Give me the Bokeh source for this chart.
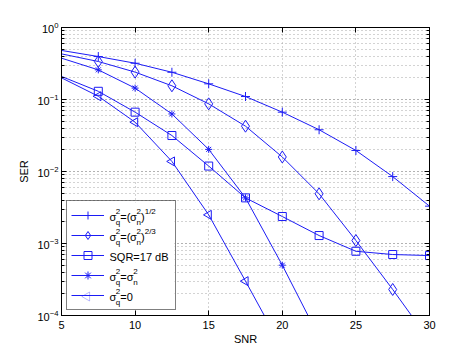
import math
from bokeh.plotting import figure
from bokeh.models import (LinearAxis, LogAxis, FixedTicker, LogTicker, Legend, LegendItem,
                          Label, Range1d, CustomJSTickFormatter, BoxAnnotation, PolyAnnotation)
from bokeh.embed import file_html
from bokeh.resources import INLINE

# ---------------- data ----------------
snr = [5, 7.5, 10, 12.5, 15, 17.5, 20, 22.5, 25, 27.5, 30]
ser_half = [0.48, 0.395, 0.319, 0.239, 0.165, 0.110, 0.0667, 0.038, 0.0196, 0.0085, 0.0033]
ser_two_thirds = [0.43, 0.337, 0.24, 0.155, 0.087, 0.0426, 0.0159, 0.0049, 0.0011, 0.00023, 4.5e-5]
ser_sqr17 = [0.209, 0.130, 0.0667, 0.0316, 0.0119, 0.0043, 0.00237, 0.00129, 0.00078, 0.000703, 0.00068]
ser_equal = [0.375, 0.258, 0.144, 0.063, 0.0203, 0.0043, 0.0005, 5e-5]
ser_zero = [0.2, 0.111, 0.0484, 0.0138, 0.0025, 0.0003, 3.5e-5]

x_ticks = [5, 10, 15, 20, 25, 30]
x_label = "SNR"
y_label = "SER"

series = [
    (ser_half, "cross", 9, 0),
    (ser_two_thirds, "diamond", 12, 0),
    (ser_sqr17, "square", 8, 0),
    (ser_equal, "asterisk", 7, 0),
    (ser_zero, "triangle", 9, math.pi / 2),
]

# legend text pieces: (text, dx, role)
legend_texts = [
    [("σ", 0, "m"), ("2", 6.3, "sup"), ("q", 6.3, "sub"), ("=(", 10.8, "m"), ("σ", 20.6, "m"),
     ("2", 27.0, "sup"), ("n", 27.0, "sub"), (")", 31.4, "m"), ("1/2", 35.2, "sup")],
    [("σ", 0, "m"), ("2", 6.3, "sup"), ("q", 6.3, "sub"), ("=(", 10.8, "m"), ("σ", 20.6, "m"),
     ("2", 27.0, "sup"), ("n", 27.0, "sub"), (")", 31.4, "m"), ("2/3", 35.2, "sup")],
    [("SQR=17 dB", 0, "m")],
    [("σ", 0, "m"), ("2", 6.3, "sup"), ("q", 6.3, "sub"), ("=σ", 10.8, "m"),
     ("2", 23.8, "sup"), ("n", 23.8, "sub")],
    [("σ", 0, "m"), ("2", 6.3, "sup"), ("q", 6.3, "sub"), ("=0", 10.8, "m")],
]

BLUE = "#1c1cf5"
FONT = "Liberation Sans"
GRID = "#a6a6a6"

p = figure(width=466, height=347, y_axis_type="log",
           x_range=Range1d(5, 30), y_range=Range1d(1e-4, 1),
           output_backend="svg", toolbar_location=None,
           min_border_left=61, min_border_right=37, min_border_top=27, min_border_bottom=32)

p.outline_line_color = "black"
p.outline_line_width = 1
p.background_fill_color = "white"
p.border_fill_color = "white"

# axes
p.xaxis.ticker = FixedTicker(ticks=x_ticks, minor_ticks=[])
p.yaxis.ticker = LogTicker(num_minor_ticks=10)
for ax in (p.xaxis, p.yaxis):
    ax.major_tick_in = 5
    ax.major_tick_out = 0
    ax.minor_tick_in = 3
    ax.minor_tick_out = 0
    ax.axis_line_color = "black"
    ax.major_tick_line_color = "black"
    ax.minor_tick_line_color = "black"
    ax.major_label_text_font = FONT
    ax.major_label_text_font_size = "11px"
    ax.major_label_text_color = "black"
    ax.axis_label_text_font = FONT
    ax.axis_label_text_font_size = "11px"
    ax.axis_label_text_font_style = "normal"
    ax.axis_label_text_color = "black"
p.xaxis.axis_label = x_label
p.yaxis.axis_label = y_label
p.xaxis.major_label_standoff = 5
p.xaxis.axis_label_standoff = 1
p.yaxis.major_label_standoff = 3
p.yaxis.axis_label_standoff = 4

blank = CustomJSTickFormatter(code="return ''")
top = LinearAxis(ticker=FixedTicker(ticks=x_ticks, minor_ticks=[]), formatter=blank,
                 major_tick_in=5, major_tick_out=0, minor_tick_out=0, axis_line_color="black",
                 major_label_standoff=0)
right = LogAxis(ticker=LogTicker(num_minor_ticks=10), formatter=blank,
                major_tick_in=5, major_tick_out=0, minor_tick_in=3, minor_tick_out=0,
                axis_line_color="black", major_label_standoff=0)
p.add_layout(top, "above")
p.add_layout(right, "right")

# grid
for g in (p.xgrid, p.ygrid):
    g.grid_line_color = GRID
    g.grid_line_dash = "1 3"
    g.grid_line_width = 1
p.ygrid.minor_grid_line_color = GRID
p.ygrid.minor_grid_line_dash = "1 3"

LEG_X, LEG_Y, PAD, ROW = 5, 5, 4, 20
GLYPH_W, STANDOFF, LABEL_W = 33, 5, 62
n = len(legend_texts)
leg_w = 2 * PAD + GLYPH_W + STANDOFF + LABEL_W
leg_h = 2 * PAD + n * ROW

# white legend background below the data
p.add_layout(BoxAnnotation(left=LEG_X, right=LEG_X + leg_w, bottom=LEG_Y, top=LEG_Y + leg_h,
                           left_units="screen", right_units="screen",
                           bottom_units="screen", top_units="screen",
                           fill_color="white", fill_alpha=1.0, line_color=None,
                           level="underlay"))

# data
items = []
for ys, marker, size, ang in series:
    xs = snr[:len(ys)]
    lr = p.line(xs, ys, line_color=BLUE, line_width=1)
    mr = p.scatter(xs[1:], ys[1:], marker=marker, size=size, angle=ang,
                   line_color=BLUE, fill_color=None, line_width=1)
    # rotated markers are not rotated in legends -> draw that icon separately
    rends = [lr] if ang else [lr, mr]
    items.append(LegendItem(label=" ", renderers=rends))

legend = Legend(items=items, location=(LEG_X, LEG_Y), padding=PAD, spacing=0,
                glyph_width=GLYPH_W, glyph_height=ROW, label_height=ROW, label_width=LABEL_W,
                label_standoff=STANDOFF, border_line_color="black", border_line_width=1,
                background_fill_alpha=0.0, margin=0,
                label_text_font_size="1px")
p.add_layout(legend)

# left-pointing triangle icon for the last legend entry
for i, (ys, marker, size, ang) in enumerate(series):
    if ang:
        cx = LEG_X + PAD + GLYPH_W / 2
        cy = LEG_Y + PAD + (n - 1 - i) * ROW + ROW / 2
        r = size / 2
        h = r * math.sqrt(3)
        a = h / 3
        p.add_layout(PolyAnnotation(xs=[cx - (h - a), cx + a, cx + a],
                                    ys=[cy, cy + r, cy - r],
                                    xs_units="screen", ys_units="screen",
                                    fill_alpha=0, line_color=BLUE, line_width=1,
                                    level="overlay"))

text_x0 = LEG_X + PAD + GLYPH_W + STANDOFF + 1
for i, pieces in enumerate(legend_texts):
    yc = LEG_Y + PAD + (n - 1 - i) * ROW + ROW / 2
    for txt, dx, role in pieces:
        if role == "m":
            fs, dy = "11px", 0
        elif role == "sup":
            fs, dy = "8px", 5
        else:
            fs, dy = "8px", -6
        p.add_layout(Label(x=text_x0 + dx, y=yc + dy, x_units="screen", y_units="screen",
                           text=txt, text_font=FONT, text_font_size=fs, level="overlay",
                           text_baseline="middle", text_align="left", text_color="black"))

open("out.html", "w").write(file_html(p, INLINE))
